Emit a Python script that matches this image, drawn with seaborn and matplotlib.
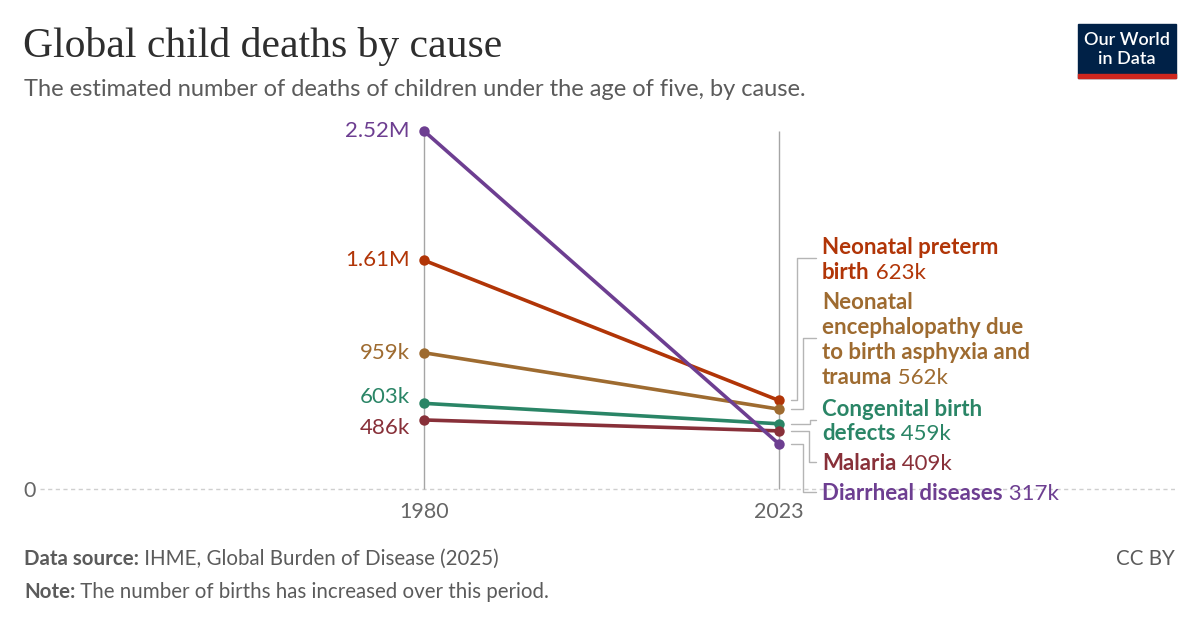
import pandas as pd
import numpy as np
import matplotlib.pyplot as plt
import seaborn as sns

# Dados
causes = ["Neonatal preterm birth",
          "Neonatal encephalopathy due to birth asphyxia and trauma",
          "Congenital birth defects",
          "Malaria",
          "Diarrheal diseases"]
years = [1980, 2023]
deaths_1980 = [1.61e6, 959e3, 603e3, 486e3, 2.52e6]
deaths_2023 = [623e3, 562e3, 459e3, 409e3, 317e3]
labels_1980 = ["1.61M", "959k", "603k", "486k", "2.52M"]
labels_2023 = ["623k", "562k", "459k", "409k", "317k"]
name_lines = [["Neonatal preterm", "birth"],
              ["Neonatal", "encephalopathy due", "to birth asphyxia and", "trauma"],
              ["Congenital birth", "defects"],
              ["Malaria"],
              ["Diarrheal diseases"]]
colors = ["#B13507", "#9E6B30", "#2A8566", "#883039", "#6D3E91"]

df = pd.DataFrame({
    "cause": causes * 2,
    "year": [years[0]] * len(causes) + [years[1]] * len(causes),
    "deaths": deaths_1980 + deaths_2023,
})

sns.set_style("white")
plt.rcParams["font.family"] = ["Lato", "DejaVu Sans"]

W, H = 1200, 627
fig = plt.figure(figsize=(12, 6.27), dpi=100)
renderer = fig.canvas.get_renderer()

# eixo em pixels: 1980 -> x=424, 2023 -> x=779, 0 -> y=489, 2.52M -> y=131
ax_l, ax_r, ax_t, ax_b = 40, 1175, 115, 505
ax = fig.add_axes([ax_l / W, 1 - ax_b / H, (ax_r - ax_l) / W, (ax_b - ax_t) / H])
px_per_year = (779 - 424) / 43
px_per_unit = (489 - 131) / 2.52e6
ax.set_xlim(1980 - (424 - ax_l) / px_per_year, 2023 + (ax_r - 779) / px_per_year)
ax.set_ylim(-(ax_b - 489) / px_per_unit, (489 - ax_t) / px_per_unit)


def dx(px):
    return px / px_per_year


def dy(px):
    return px / px_per_unit


def text_after(t, s, **kw):
    # coloca texto logo a seguir a outro, na mesma linha de base
    bb = t.get_window_extent(renderer)
    x = ax.transData.inverted().transform((bb.x1, 0))[0]
    return ax.text(x, t.get_position()[1], s, va="baseline", **kw)


ax.axhline(0, color="#cfcfcf", lw=1, ls=(0, (3, 2.5)), zorder=0)
ax.vlines(years, 0, max(deaths_1980 + deaths_2023), color="#a5a5a5", lw=1, zorder=1)

sns.lineplot(data=df, x="year", y="deaths", hue="cause", hue_order=causes,
             palette=colors, marker="o", markersize=7.5, markeredgewidth=0,
             linewidth=2.6, legend=False, ax=ax, clip_on=False, zorder=3)

fs = 16
# rótulos à esquerda (valores de 1980)
left_nudge = [0, 0, -6, 8, 0]
for v, lab, c, n in zip(deaths_1980, labels_1980, colors, left_nudge):
    ax.text(1980 - dx(14), v - dy(n), lab, color=c, fontsize=fs,
            ha="right", va="center")

# rótulos à direita com linhas de ligação
label_centers = [258, 338, 419.5, 462, 492]   # centro do bloco, em px
elbows = [797, 803, 810, 809, 803]
line_h = 25
for i, (v, lines, val, c) in enumerate(zip(deaths_2023, name_lines, labels_2023, colors)):
    yc = (489 - label_centers[i]) / px_per_unit
    xe = 2023 + dx(elbows[i] - 779)
    ax.plot([2023 + dx(12), xe, xe, 2023 + dx(37)], [v, v, yc, yc],
            color="#b5b5b5", lw=1, clip_on=False, zorder=2)
    n = len(lines)
    x0 = 2023 + dx(43)
    for j, ln in enumerate(lines):
        y = yc + dy(line_h * ((n - 1) / 2 - j)) - dy(8.5)
        t = ax.text(x0, y, ln, color=c, fontsize=fs, fontweight="bold",
                    ha="left", va="baseline")
        if j == n - 1:
            text_after(t, " " + val, color=c, fontsize=fs, ha="left")

ax.set_xticks(years)
ax.set_xticklabels([str(y) for y in years])
ax.set_yticks([0])
ax.set_yticklabels(["0"])
ax.tick_params(length=0, colors="#666666", labelsize=15.5)
ax.tick_params(axis="x", pad=-2)
ax.tick_params(axis="y", pad=3)
ax.set_xlabel("")
ax.set_ylabel("")
sns.despine(ax=ax, left=True, bottom=True)

# título e subtítulo
fig.text(23 / W, 1 - 46 / H, "Global child deaths by cause", fontsize=30,
         family=["Liberation Serif", "DejaVu Serif"], color="#2e2e2e", va="center")
fig.text(24 / W, 1 - 89 / H, "The estimated number of deaths of children under the age of five, by cause.",
         fontsize=17, color="#5b5b5b", va="center")

# logo
fig.patches.append(plt.Rectangle((1078 / W, 1 - 78 / H), 98 / W, 54 / H,
                                 transform=fig.transFigure, color="#002147"))
fig.patches.append(plt.Rectangle((1078 / W, 1 - 78 / H), 98 / W, 4 / H,
                                 transform=fig.transFigure, color="#CE261E"))
fig.text(1127 / W, 1 - 40 / H, "Our World", color="white", fontsize=13,
         fontweight="semibold", ha="center", va="center")
fig.text(1127 / W, 1 - 59 / H, "in Data", color="white", fontsize=13,
         fontweight="semibold", ha="center", va="center")

# rodapé
foot = "#5b5b5b"
t1 = fig.text(24 / W, 1 - 565 / H, "Data source:", fontsize=14.8, fontweight="bold",
              color=foot, va="baseline")
bb = t1.get_window_extent(renderer)
fig.text(bb.x1 / W, 1 - 565 / H, " IHME, Global Burden of Disease (2025)", fontsize=14.8,
         color=foot, va="baseline")
t2 = fig.text(24 / W, 1 - 598 / H, "Note:", fontsize=14.8, fontweight="bold",
              color=foot, va="baseline")
bb = t2.get_window_extent(renderer)
fig.text(bb.x1 / W, 1 - 598 / H, " The number of births has increased over this period.",
         fontsize=14.8, color=foot, va="baseline")
fig.text(1175 / W, 1 - 565 / H, "CC BY", fontsize=14.8, color=foot,
         ha="right", va="baseline")

plt.savefig("out.png", dpi=100)
